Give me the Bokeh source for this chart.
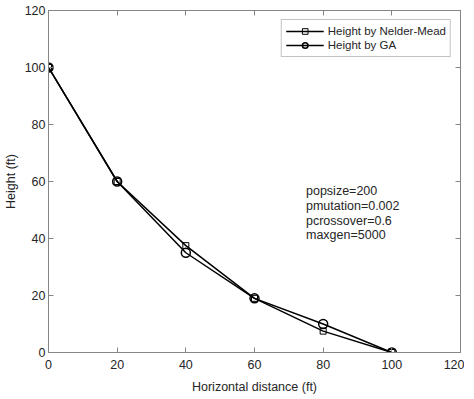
from bokeh.plotting import figure
from bokeh.models import LinearAxis, Range1d, Legend, LegendItem, Label, FixedTicker
from bokeh.embed import file_html
from bokeh.resources import INLINE

x_vals = [0, 20, 40, 60, 80, 100]
nm_height = [100, 60, 37.5, 19, 7.5, 0]
ga_height = [100, 60, 35, 19, 10, 0]
x_ticks = [0, 20, 40, 60, 80, 100, 120]
y_ticks = [0, 20, 40, 60, 80, 100, 120]
params = ["popsize=200", "pmutation=0.002", "pcrossover=0.6", "maxgen=5000"]

FONT = "Liberation Sans"
AXC = "#868686"
TXT = "#262626"

p = figure(frame_width=412, frame_height=342, output_backend="svg", toolbar_location=None,
           x_range=Range1d(0, 120), y_range=Range1d(0, 120),
           min_border_left=40, min_border_right=4, min_border_top=10, min_border_bottom=37,
           x_axis_label="Horizontal distance (ft)", y_axis_label="Height (ft)")
p.grid.visible = False
p.outline_line_color = AXC
p.outline_line_width = 1
p.background_fill_color = "white"
p.border_fill_color = "white"

for ax in p.xaxis + p.yaxis:
    ax.axis_line_color = AXC
    ax.major_tick_line_color = AXC
    ax.major_tick_in = 5
    ax.major_tick_out = 0
    ax.minor_tick_line_color = None
    ax.major_label_text_font = FONT
    ax.major_label_text_font_size = "12.5px"
    ax.major_label_text_color = TXT
    ax.axis_label_text_font = FONT
    ax.axis_label_text_font_size = "12.5px"
    ax.axis_label_text_font_style = "normal"
    ax.axis_label_text_color = TXT
p.xaxis.ticker = FixedTicker(ticks=x_ticks)
p.yaxis.ticker = FixedTicker(ticks=y_ticks)
p.xaxis.major_label_standoff = 7
p.yaxis.major_label_standoff = 3
p.xaxis.axis_label_standoff = 8
p.yaxis.axis_label_standoff = 4

empty = {t: "" for t in x_ticks}
top = LinearAxis(ticker=FixedTicker(ticks=x_ticks), major_label_overrides=empty,
                 axis_line_color=AXC, major_tick_line_color=AXC, major_tick_in=5,
                 major_tick_out=0, minor_tick_line_color=None, major_label_standoff=0)
right = LinearAxis(ticker=FixedTicker(ticks=y_ticks), major_label_overrides=empty,
                   axis_line_color=AXC, major_tick_line_color=AXC, major_tick_in=5,
                   major_tick_out=0, minor_tick_line_color=None, major_label_standoff=0)
p.add_layout(top, "above")
p.add_layout(right, "right")

l1 = p.line(x_vals, nm_height, line_color="black", line_width=1.5)
s1 = p.scatter(x_vals, nm_height, marker="square", size=6, fill_color=None,
               line_color="black", line_width=1)
l2 = p.line(x_vals, ga_height, line_color="black", line_width=1.5)
s2 = p.scatter(x_vals, ga_height, marker="circle", size=9, fill_color=None,
               line_color="black", line_width=1.5)

legend = Legend(items=[LegendItem(label="Height by Nelder-Mead", renderers=[l1, s1]),
                       LegendItem(label="Height by GA", renderers=[l2, s2])],
                location="top_right")
legend.label_text_font = FONT
legend.label_text_font_size = "11.5px"
legend.label_text_color = TXT
legend.border_line_color = AXC
legend.border_line_width = 1
legend.glyph_width = 38
legend.glyph_height = 14
legend.label_height = 14
legend.spacing = 0
legend.padding = 4
legend.margin = 9
legend.label_standoff = 4
p.add_layout(legend)

for i, txt in enumerate(params):
    p.add_layout(Label(x=75, y=56.5 - i * 5.1, text=txt, text_font=FONT,
                       text_font_size="12.5px", text_color=TXT,
                       text_baseline="middle", text_align="left"))

open("out.html", "w").write(file_html(p, INLINE))
